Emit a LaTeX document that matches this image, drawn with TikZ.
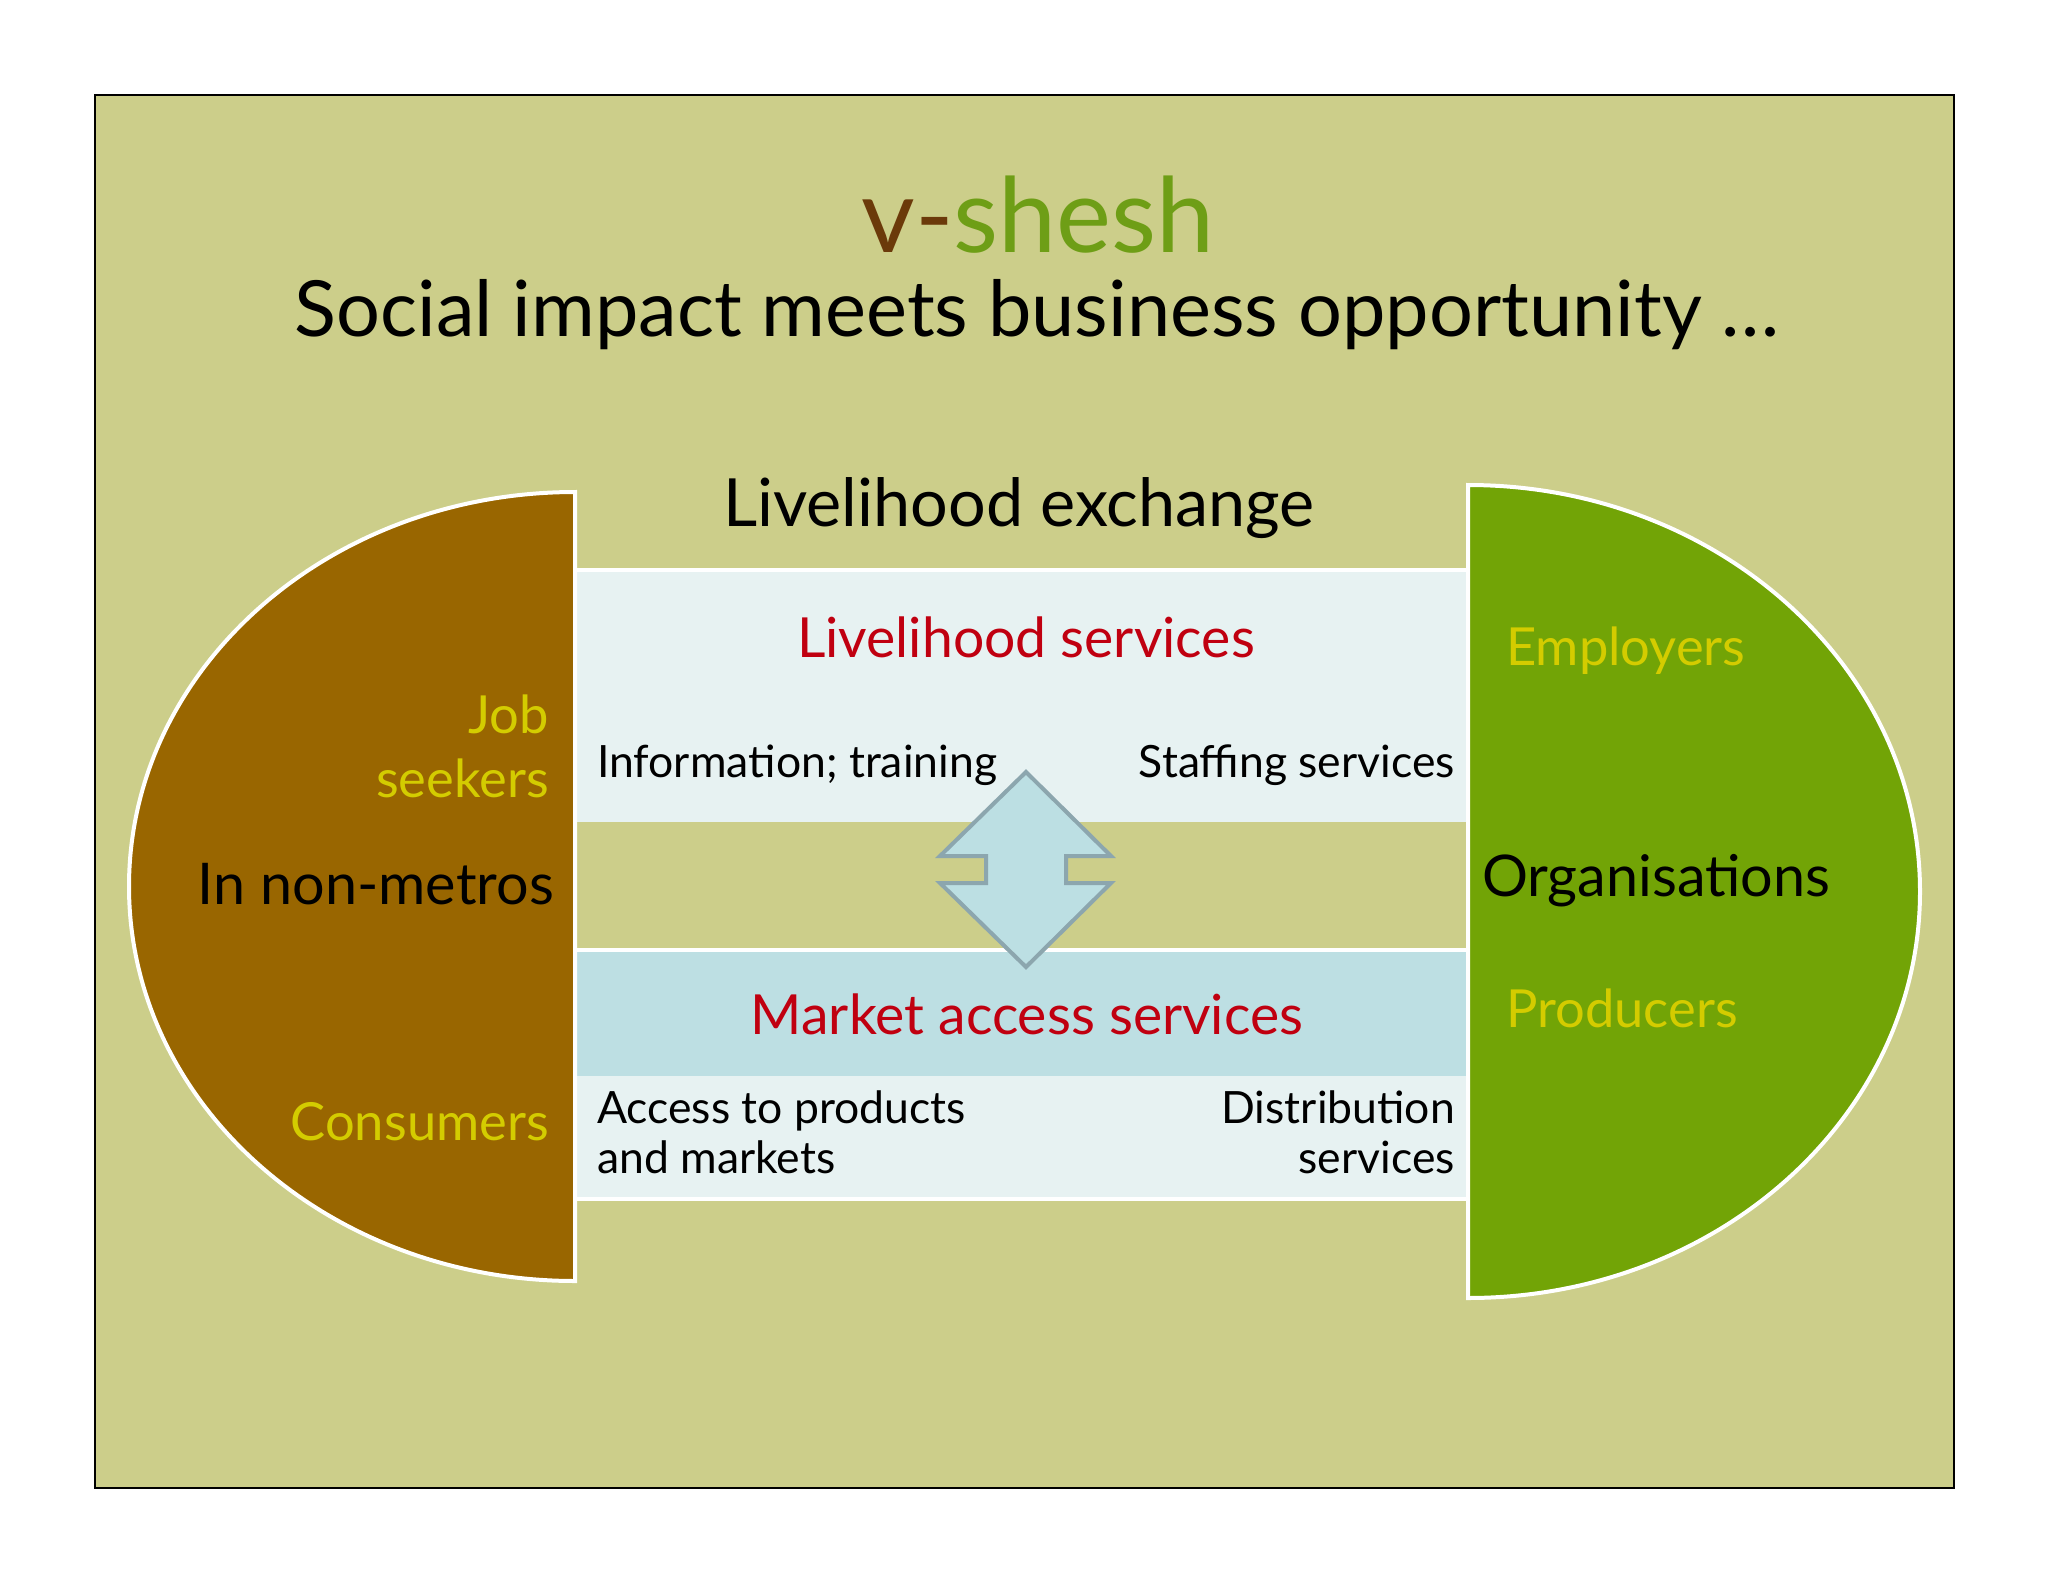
\documentclass[tikz,border=0pt]{standalone}
\usepackage{fontspec}
\setmainfont{Lato}
\usetikzlibrary{positioning}

\definecolor{khaki}{RGB}{204,206,138}
\definecolor{seekbrown}{RGB}{153,102,0}
\definecolor{orggreen}{RGB}{114,164,6}
\definecolor{paleband}{RGB}{231,242,242}
\definecolor{blueband}{RGB}{189,223,227}
\definecolor{arrowfill}{RGB}{188,223,227}
\definecolor{arrowedge}{RGB}{140,166,174}
\definecolor{roleyellow}{RGB}{212,204,0}
\definecolor{servred}{RGB}{192,0,16}
\definecolor{vbrown}{RGB}{107,58,10}
\definecolor{vgreen}{RGB}{110,158,22}

\tikzset{
  txt/.style={inner sep=0pt, text=black},
  big/.style={font=\fontsize{57.5}{64}\selectfont},
  head/.style={txt, text=servred, font=\fontsize{55.3}{62}\selectfont},
  small/.style={txt, font=\fontsize{44.5}{50}\selectfont, align=left},
  role/.style={txt, text=roleyellow, font=\fontsize{52.5}{64}\selectfont},
  bandedge/.style={white, line width=4pt},
  halfdisc/.style={draw=white, line width=4pt}
}

\begin{document}
\begin{tikzpicture}[x=1pt,y=-1pt]
  \useasboundingbox (0,0) rectangle (2048,1582);
  \fill[white] (0,0) rectangle (2048,1582);
  % frame
  \draw[fill=khaki, line width=2pt] (95,95) rectangle (1954,1488);
  % title
  \node[txt, anchor=base, font=\fontsize{104}{110}\selectfont] (brand) at (1038,252)
    {\textcolor{vbrown}{v-}\textcolor{vgreen}{shesh}};
  \node[txt, anchor=base, font=\fontsize{77.5}{90}\selectfont] (tagline) at (1037,336)
    {Social impact meets business opportunity …};
  % bands
  \fill[paleband] (575,570) rectangle (1468,822);
  \fill[blueband] (575,950) rectangle (1468,1076);
  \fill[paleband] (575,1076) rectangle (1468,1198);
  \draw[bandedge] (575,570) -- (1468,570);
  \draw[bandedge] (575,950) -- (1468,950);
  \draw[bandedge] (575,1199) -- (1468,1199);
  % half discs
  \draw[halfdisc, fill=seekbrown] (575,492)
    arc[start angle=270, end angle=90, x radius=446, y radius=394.5] -- cycle;
  \draw[halfdisc, fill=orggreen] (1468,485)
    arc[start angle=-90, end angle=90, x radius=452, y radius=406.5] -- cycle;
  % double arrow
  \draw[fill=arrowfill, draw=arrowedge, line width=4pt, line join=miter]
    (1026,772) -- (1111,856) -- (1066,856) -- (1066,883) -- (1111,883)
    -- (1026,967) -- (940,883) -- (986,883) -- (986,856) -- (940,856) -- cycle;
  % exchange texts
  \node[txt, anchor=base, font=\fontsize{66.5}{70}\selectfont] (exchange) at (1019,526)
    {Livelihood exchange};
  \node[head, anchor=base] (livserv) at (1026,657) {Livelihood services};
  \node[small, anchor=base west] (info) at (597,777) {Information; training};
  \node[small, anchor=base east] (staff) at (1455,777) {Staffing services};
  \node[head, anchor=base] (market) at (1027,1034) {Market access services};
  \node[small, anchor=base west, align=left] (access) at (597,1173)
    {Access to products\\and markets};
  \node[small, anchor=base east, align=right] (distr) at (1455,1173)
    {Distribution\\services};
  % left side
  \node[role, anchor=base east, align=right] (seekers) at (549,797) {Job\\seekers};
  \node[txt, big, anchor=base east] (nonmetro) at (554,904) {In non-metros};
  \node[role, anchor=base east] (consumers) at (549,1140) {Consumers};
  % right side
  \node[role, anchor=base west] (employers) at (1506,665) {Employers};
  \node[txt, big, anchor=base west] (orgs) at (1482,896) {Organisations};
  \node[role, anchor=base west] (producers) at (1506,1027) {Producers};
\end{tikzpicture}
\end{document}
